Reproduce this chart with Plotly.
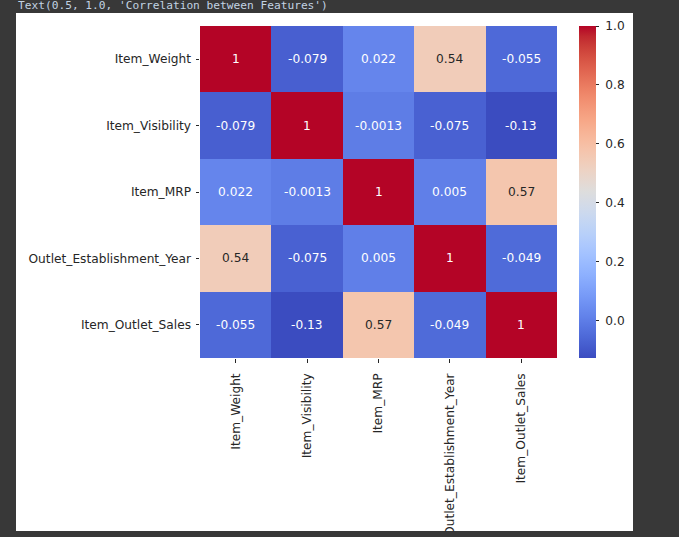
import plotly.graph_objects as go

features = ["Item_Weight", "Item_Visibility", "Item_MRP",
            "Outlet_Establishment_Year", "Item_Outlet_Sales"]

row_item_weight = [1.0, -0.079, 0.022, 0.54, -0.055]
row_item_visibility = [-0.079, 1.0, -0.0013, -0.075, -0.128]
row_item_mrp = [0.022, -0.0013, 1.0, 0.005, 0.57]
row_outlet_year = [0.54, -0.075, 0.005, 1.0, -0.049]
row_item_sales = [-0.055, -0.128, 0.57, -0.049, 1.0]

corr = [row_item_weight, row_item_visibility, row_item_mrp,
        row_outlet_year, row_item_sales]

colorbar_ticks = [0.0, 0.2, 0.4, 0.6, 0.8, 1.0]
colorbar_ticktext = ["0.0", "0.2", "0.4", "0.6", "0.8", "1.0"]

zmin = min(min(r) for r in corr)
zmax = max(max(r) for r in corr)

# matplotlib "coolwarm" (Moreland smooth cool-warm)
cw = [(59,76,192),(68,90,204),(77,104,215),(87,117,225),(98,130,234),(108,142,241),
      (119,154,247),(130,165,251),(141,176,254),(152,185,255),(163,194,255),(174,201,253),
      (184,208,249),(194,213,244),(204,217,238),(213,219,230),(221,221,221),(229,216,209),
      (236,211,197),(241,204,184),(245,196,172),(247,187,159),(247,177,147),(247,166,134),
      (244,154,123),(241,141,111),(236,127,99),(229,112,88),(222,96,77),(213,80,66),
      (203,62,56),(192,40,47),(180,4,38)]
colorscale = [[i / (len(cw) - 1), "rgb(%d,%d,%d)" % c] for i, c in enumerate(cw)]

FONT = "DejaVu Sans"
TXT = "#262626"
W, H = 679, 537
L, R, T, B = 200, 557, 26, 358  # plot area in pixels
pw, ph = R - L, B - T

def px_x(x):
    return (x - L) / pw

def px_y(y):
    return (B - y) / ph

fig = go.Figure()
fig.add_trace(go.Heatmap(
    z=corr, x=features, y=features,
    colorscale=colorscale, zmin=zmin, zmax=zmax,
    xgap=0, ygap=0,
    colorbar=dict(
        x=px_x(579), xanchor="left", xref="paper", xpad=0,
        y=0.5, yanchor="middle", len=1.0, lenmode="fraction", ypad=0,
        thickness=17, outlinewidth=0,
        tickvals=colorbar_ticks,
        ticktext=["\u00a0" + t for t in colorbar_ticktext],
        ticks="outside", ticklen=3.5, tickwidth=1, tickcolor=TXT,
        tickfont=dict(family=FONT, size=12.2, color=TXT),
    ),
    hoverinfo="skip",
))

for i, rname in enumerate(features):
    for j, cname in enumerate(features):
        v = corr[i][j]
        norm = (v - zmin) / (zmax - zmin)
        color = TXT if 0.3 < norm < 0.75 else "#ffffff"
        label = "%.2g" % v
        fig.add_annotation(x=cname, y=rname, text=label, showarrow=False,
                           font=dict(family=FONT, size=12.2, color=color))

# notebook-style background panel
fig.add_shape(type="rect", xref="paper", yref="paper", layer="below",
              x0=px_x(16), x1=px_x(633), y0=px_y(531), y1=px_y(13),
              fillcolor="white", line=dict(width=0))
# crop of output area at bottom
fig.add_shape(type="rect", xref="paper", yref="paper", layer="above",
              x0=px_x(0), x1=px_x(679), y0=px_y(537), y1=px_y(531.5),
              fillcolor="#383838", line=dict(width=0))

fig.add_annotation(xref="paper", yref="paper", x=px_x(16), y=px_y(5.5),
                   xanchor="left", yanchor="middle", showarrow=False,
                   text="Text(0.5, 1.0, 'Correlation between Features')",
                   font=dict(family="DejaVu Sans Mono", size=11.2, color="#c2d3e3"))

fig.update_xaxes(type="category", tickangle=-90, ticks="outside", ticklen=3.5,
                 ticklabelstandoff=6, automargin=False,
                 tickcolor=TXT, tickfont=dict(family=FONT, size=12.2, color=TXT),
                 showgrid=False, zeroline=False, showline=False)
fig.update_yaxes(type="category", autorange="reversed", ticks="outside", ticklen=3.5,
                 ticklabelstandoff=2, automargin=False,
                 tickcolor=TXT, tickfont=dict(family=FONT, size=12.2, color=TXT),
                 showgrid=False, zeroline=False, showline=False)

fig.update_layout(
    width=W, height=H,
    margin=dict(l=L, r=W - R, t=T, b=H - B, pad=0, autoexpand=False),
    paper_bgcolor="#383838", plot_bgcolor="white",
    font=dict(family=FONT, color=TXT),
    showlegend=False,
)

post = ("document.documentElement.style.margin='0';"
        "document.body.style.margin='0';"
        "document.body.style.overflow='hidden';"
        "document.documentElement.style.overflow='hidden';"
        "var d=document.getElementById('{plot_id}');"
        "d.style.overflow='hidden';"
        "var svgs=d.querySelectorAll('svg.main-svg');"
        "for(var k=0;k<svgs.length;k++){svgs[k].style.overflow='hidden';}"
        "var sc=d.querySelector('.svg-container');if(sc){sc.style.overflow='hidden';}")

fig.write_html("out.html", config={"displayModeBar": False}, post_script=post)
